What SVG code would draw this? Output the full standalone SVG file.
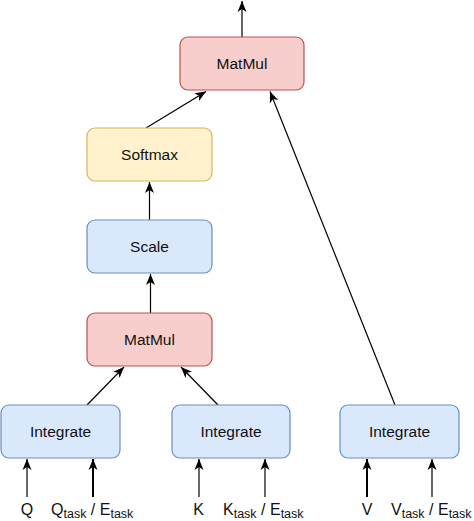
<svg xmlns="http://www.w3.org/2000/svg" width="474" height="521" viewBox="0 0 474 521">
<style>
.box{stroke-width:1.2}
.blue{fill:#dae8fc;stroke:#6c8ebf}
.red{fill:#f8cecc;stroke:#b85450}
.yellow{fill:#fff2cc;stroke:#d6b656}
text{font-family:"Liberation Sans",Arial,sans-serif;fill:#111}
.lbl{font-size:15.5px;text-anchor:middle;dominant-baseline:central}
.in{font-size:16px}
.sub{font-size:12.5px}
.c{stroke:#000;stroke-width:1.2;fill:none;marker-end:url(#ah)}
.t{stroke-width:2}
</style>
<defs>
<marker id="ah" markerUnits="userSpaceOnUse" markerWidth="12" markerHeight="10" viewBox="0 0 12 10" refX="11" refY="5" orient="auto">
<path d="M0,0.5 L11,5 L0,9.5 L3,5 z" fill="#000"/>
</marker>
</defs>
<g id="connectors">
<line class="c" x1="242" y1="37" x2="242" y2="1"/>
<line class="c" x1="146" y1="128" x2="206" y2="91.5"/>
<line class="c" x1="395" y1="405" x2="270" y2="91.5"/>
<line class="c" x1="149.5" y1="220" x2="149.5" y2="182"/>
<line class="c" x1="150.5" y1="313" x2="150.5" y2="274"/>
<line class="c" x1="87" y1="405" x2="124" y2="367"/>
<line class="c" x1="218" y1="405" x2="181" y2="367"/>
<line class="c" x1="27" y1="497" x2="27" y2="459"/>
<line class="c t" x1="93" y1="497" x2="93" y2="459"/>
<line class="c" x1="199" y1="497" x2="199" y2="459"/>
<line class="c" x1="265" y1="497" x2="265" y2="459"/>
<line class="c t" x1="367" y1="497" x2="367" y2="459"/>
<line class="c" x1="432" y1="497" x2="432" y2="459"/>
</g>
<g id="matmul-top">
<rect class="box red" x="180" y="37" width="124" height="53" rx="8"/>
<text class="lbl" x="242" y="63.5">MatMul</text>
</g>
<g id="softmax">
<rect class="box yellow" x="87" y="128" width="125" height="53" rx="8"/>
<text class="lbl" x="149.5" y="154.5">Softmax</text>
</g>
<g id="scale">
<rect class="box blue" x="87" y="220" width="125" height="53" rx="8"/>
<text class="lbl" x="149.5" y="246.5">Scale</text>
</g>
<g id="matmul-bottom">
<rect class="box red" x="87" y="313" width="125" height="53" rx="8"/>
<text class="lbl" x="149.5" y="339.5">MatMul</text>
</g>
<g id="integrate-q">
<rect class="box blue" x="1" y="405" width="119" height="53" rx="8"/>
<text class="lbl" x="60.5" y="431.5">Integrate</text>
</g>
<g id="integrate-k">
<rect class="box blue" x="172" y="405" width="118" height="53" rx="8"/>
<text class="lbl" x="231" y="431.5">Integrate</text>
</g>
<g id="integrate-v">
<rect class="box blue" x="340" y="405" width="119" height="53" rx="8"/>
<text class="lbl" x="399.5" y="431.5">Integrate</text>
</g>
<g id="labels">
<text class="in" x="27" y="515" text-anchor="middle">Q</text>
<text class="in" x="51" y="515">Q<tspan class="sub" dy="2.5">task</tspan><tspan dy="-2.5"> / E</tspan><tspan class="sub" dy="2.5">task</tspan></text>
<text class="in" x="198.5" y="515" text-anchor="middle">K</text>
<text class="in" x="223" y="515">K<tspan class="sub" dy="2.5">task</tspan><tspan dy="-2.5"> / E</tspan><tspan class="sub" dy="2.5">task</tspan></text>
<text class="in" x="367" y="515" text-anchor="middle">V</text>
<text class="in" x="391" y="515">V<tspan class="sub" dy="2.5">task</tspan><tspan dy="-2.5"> / E</tspan><tspan class="sub" dy="2.5">task</tspan></text>
</g>
</svg>
